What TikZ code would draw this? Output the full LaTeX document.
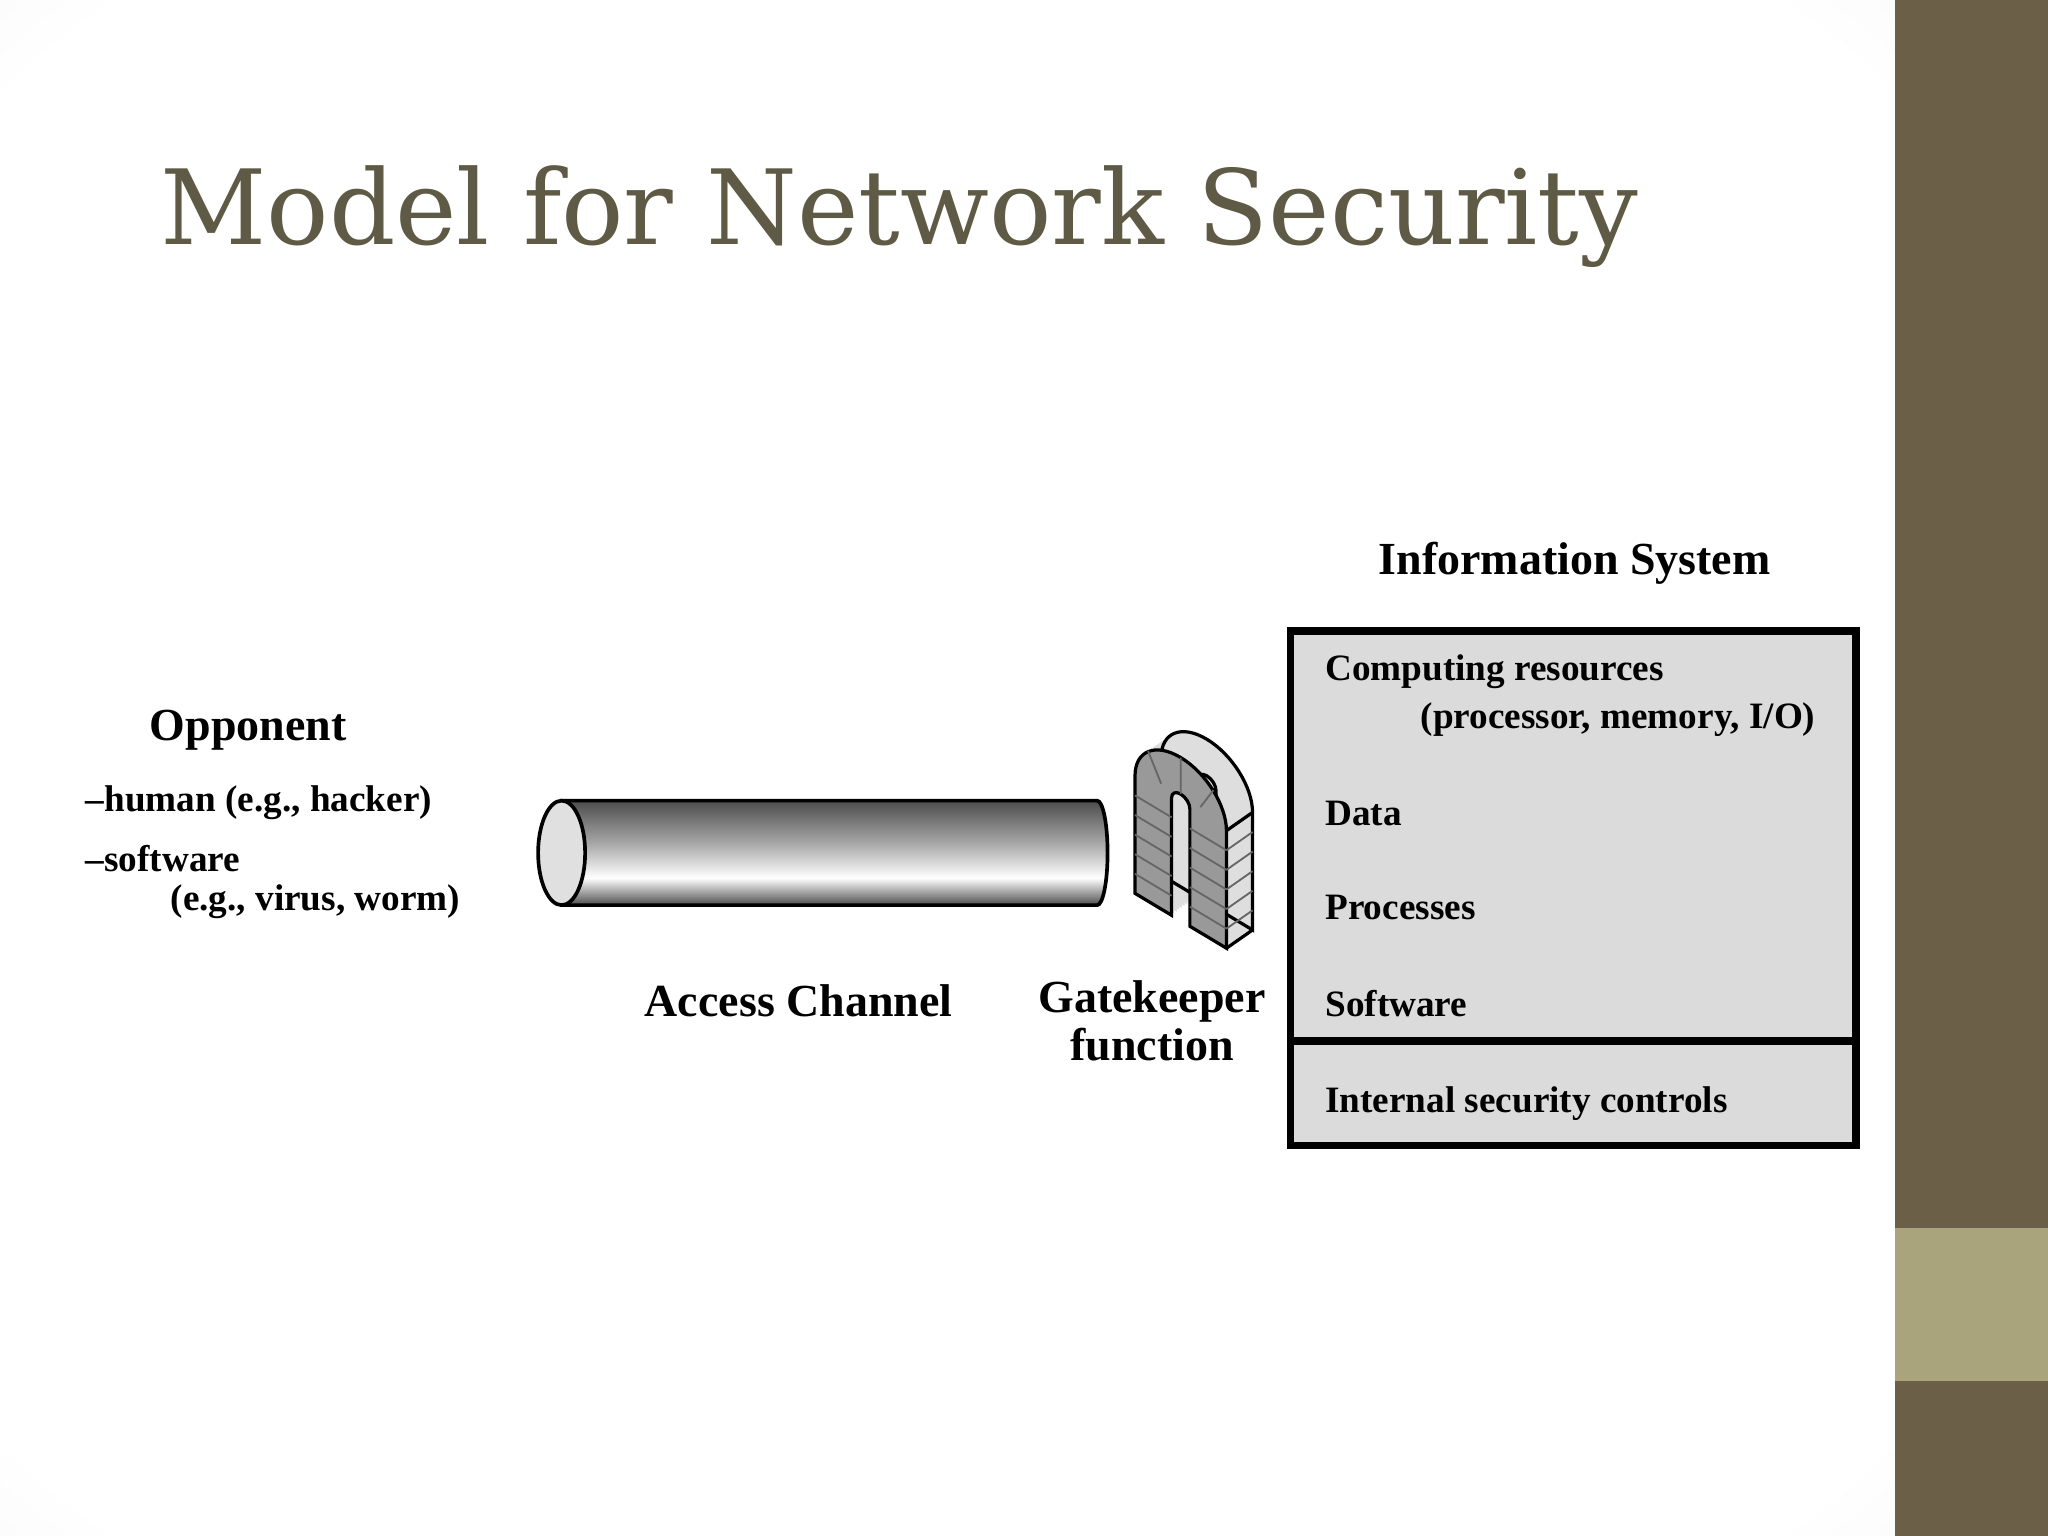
\documentclass[tikz,border=0pt]{standalone}
\usepackage{fontspec}
\setmainfont{Liberation Serif}
\newfontfamily\titlefont{DejaVu Serif}
\pgfdeclareverticalshading{pipe}{100bp}{color(0bp)=(black!85);color(25bp)=(black!70);color(38bp)=(white);color(55bp)=(black!35);color(75bp)=(black!70);color(100bp)=(black!80)}
\pgfdeclareradialshading{vig}{\pgfpoint{0bp}{0bp}}{color(0bp)=(white);color(33bp)=(white);color(50bp)=(black!9)}
\begin{document}
\begin{tikzpicture}[x=0.01cm,y=-0.01cm,
  lbl/.style={inner sep=0,anchor=base west,font=\bfseries\fontsize{10pt}{12pt}\selectfont},
  sm/.style={inner sep=0,anchor=base west,font=\bfseries\fontsize{8.1pt}{10pt}\selectfont}]
\useasboundingbox (0,0) rectangle (1568,1176);
\shade[shading=vig] (0,0) rectangle (1451,1176);
\fill[fill={rgb,255:red,107;green,95;blue,72}] (1451,0) rectangle (1568,1176);
\fill[fill={rgb,255:red,169;green,164;blue,124}] (1451,940) rectangle (1568,1057);
\node[inner sep=0,anchor=base west,text={rgb,255:red,95;green,90;blue,69},font=\titlefont\fontsize{22.6pt}{28pt}\selectfont] (title) at (122,187) {Model for Network Security};
% opponent
\node[lbl] (opp) at (114,567) {Opponent};
\node[sm] (h) at (65,621) {--human (e.g., hacker)};
\node[sm] (s) at (65,667) {--software};
\node[sm] (s2) at (130,697) {(e.g., virus, worm)};
% pipe
\shade[shading=pipe,draw=black,line width=0.8pt] (430,613) -- (840,613) arc[start angle=-90,end angle=90,x radius=8,y radius=40] -- (430,693) -- cycle;
\draw[fill=black!12,line width=0.8pt] (430,653) ellipse[x radius=18,y radius=40];
\node[lbl] (ac) at (493,778) {Access Channel};
\node[lbl,anchor=base,align=center] (gk) at (882,775) {Gatekeeper};
\node[lbl,anchor=base] (gk2) at (882,812) {function};
% gatekeeper
\begin{scope}[cm={1,-0.6,0,1,(869,684)}]
 \def\arch{(0,0) -- (0,-90) arc[start angle=180,end angle=360,radius=35] -- (70,0) -- (42,0) -- (42,-90) arc[start angle=0,end angle=-180,radius=7] -- (28,0) -- cycle}
 \foreach \t in {1,0.9,...,0.0}{\fill[black!13] [shift={(20*\t/1,-26*\t/1)}] \arch;}
 \draw[line width=0.7pt,shift={(20,-26)}] \arch;
 \draw[line width=0.7pt,fill=black!40] \arch;
 \foreach \v in {-15,-30,-45,-60,-75}{\draw[black!60] (0,\v)--(28,\v) (42,\v)--(70,\v) (70,\v)--(90,\v-26);}
 \draw[black!60] (10,-115)--(20,-96) (60,-115)--(50,-96) (35,-125)--(35,-97);
 \draw[line width=0.7pt] (70,0)--(90,-26) (70,-90)--(90,-116);
\end{scope}
% info system
\node[lbl] (is) at (1055,440) {Information System};
\draw[line width=1.6pt,fill=black!14] (988,483) rectangle (1421,877);
\draw[line width=1.6pt] (988,797) -- (1421,797);
\node[sm] (cr) at (1014,521) {Computing resources};
\node[sm] (cr2) at (1087,558) {(processor, memory, I/O)};
\node[sm] (d) at (1014,632) {Data};
\node[sm] (p) at (1014,704) {Processes};
\node[sm] (sw) at (1014,778) {Software};
\node[sm] (isc) at (1014,852) {Internal security controls};
\end{tikzpicture}
\end{document}
